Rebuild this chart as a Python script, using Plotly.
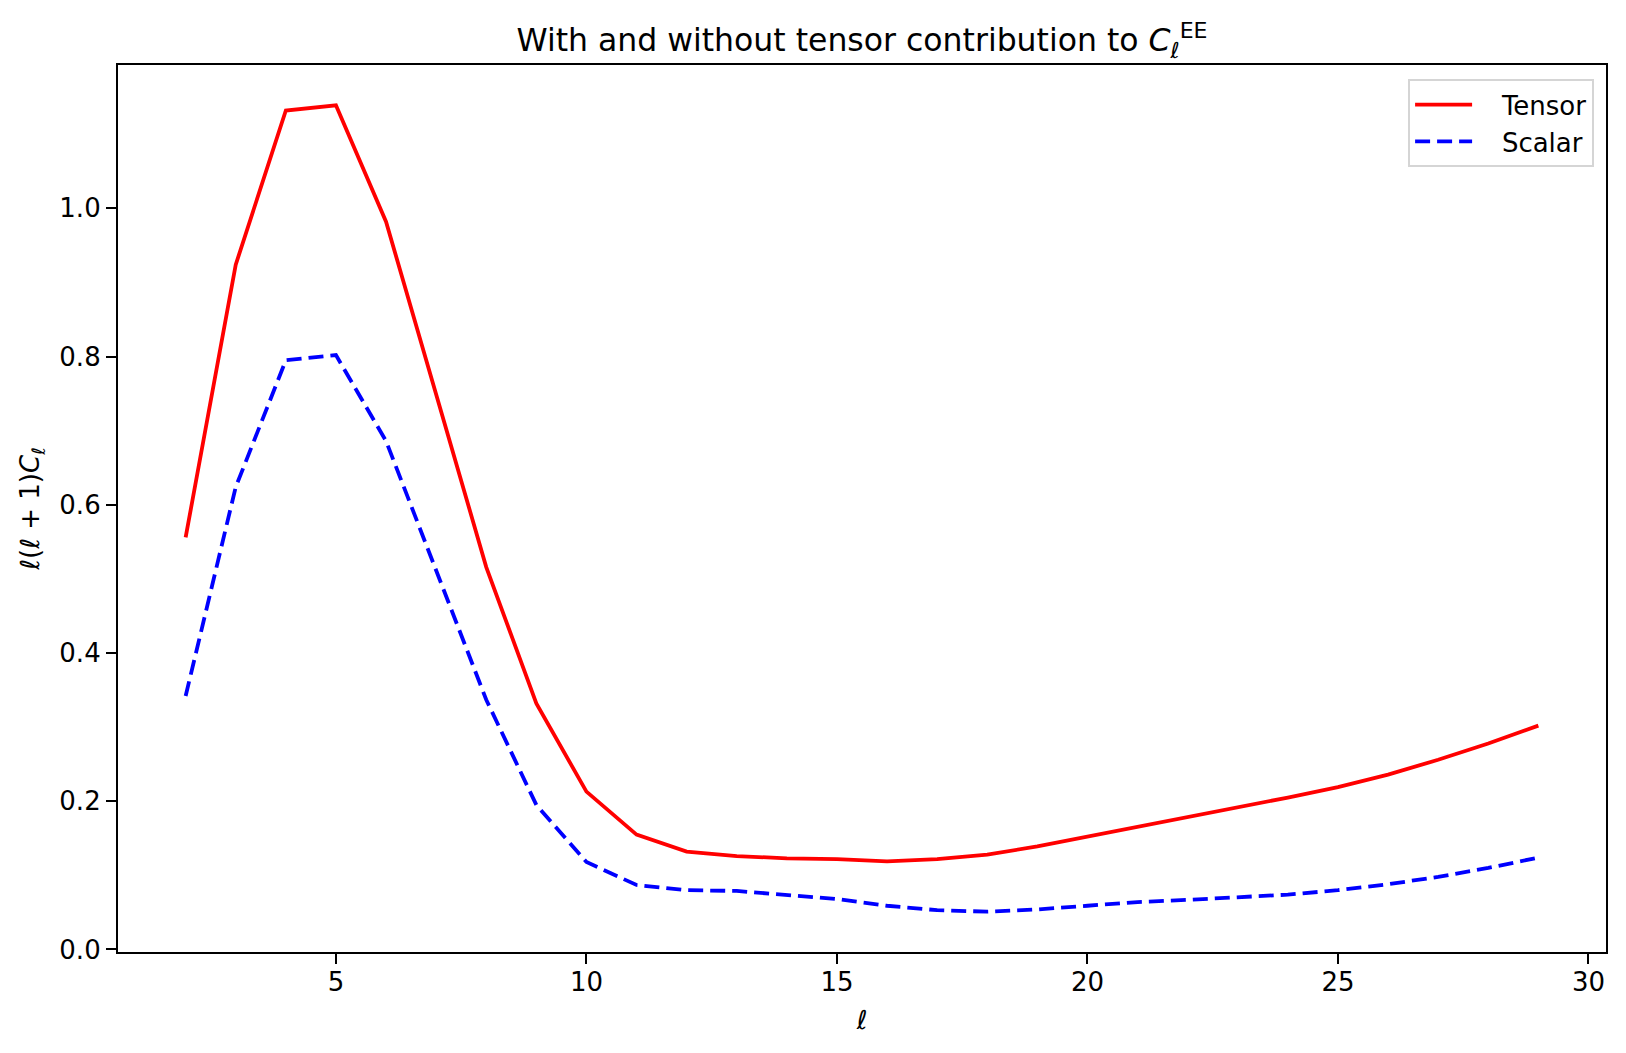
import plotly.graph_objects as go

# Data
ell = list(range(2, 30))
tensor = [0.556, 0.924, 1.132, 1.139, 0.982, 0.751, 0.516, 0.332, 0.213, 0.155,
          0.132, 0.126, 0.123, 0.122, 0.119, 0.122, 0.128, 0.139, 0.152, 0.166,
          0.179, 0.192, 0.205, 0.219, 0.236, 0.256, 0.278, 0.302]
scalar = [0.342, 0.624, 0.795, 0.802, 0.686, 0.510, 0.337, 0.195, 0.118, 0.087,
          0.080, 0.079, 0.074, 0.068, 0.059, 0.053, 0.051, 0.054, 0.059, 0.064,
          0.067, 0.070, 0.074, 0.080, 0.088, 0.098, 0.110, 0.124]
x_ticks = [5, 10, 15, 20, 25, 30]
y_ticks = [0.0, 0.2, 0.4, 0.6, 0.8, 1.0]
y_tick_labels = ["0.0", "0.2", "0.4", "0.6", "0.8", "1.0"]

FONT = "DejaVu Sans"
PAD = "\u00a0\u00a0\u00a0"

fig = go.Figure()
fig.add_trace(go.Scatter(x=ell, y=tensor, mode="lines", name=PAD + "Tensor",
                         line=dict(color="#ff0000", width=3.8)))
fig.add_trace(go.Scatter(x=ell, y=scalar, mode="lines", name=PAD + "Scalar",
                         line=dict(color="#0000ff", width=3.8, dash="15px,7px")))

axis_common = dict(showline=True, linecolor="black", linewidth=2.2, mirror=True,
                   showgrid=False, zeroline=False, ticks="outside", ticklen=10,
                   tickwidth=2.2, tickcolor="black",
                   tickfont=dict(family=FONT, size=26, color="black"))

fig.update_layout(
    width=1626, height=1053,
    margin=dict(l=118, r=20, t=65, b=101),
    paper_bgcolor="white", plot_bgcolor="white",
    font=dict(family=FONT, color="black"),
    title=dict(text="With and without tensor contribution to <i>C</i><sub><i>ℓ</i></sub><sup>EE</sup>",
               x=(118 + 1606) / 2 / 1626, xanchor="center",
               y=1 - 40 / 1053, yanchor="middle", yref="container",
               font=dict(family=FONT, size=31.5, color="black")),
    xaxis=dict(range=[0.65, 30.35], tickvals=x_ticks, ticklabelstandoff=-4,
               title=dict(text="<i>ℓ</i>", standoff=15,
                          font=dict(family=FONT, size=26, color="black")),
               **axis_common),
    yaxis=dict(range=[-0.0034, 1.1934], tickvals=y_ticks, ticktext=y_tick_labels,
               title=dict(text="<i>ℓ</i>(<i>ℓ</i> + 1)<i>C</i><sub><i>ℓ</i></sub>", standoff=12,
                          font=dict(family=FONT, size=26, color="black")),
               **axis_common),
    legend=dict(x=0.992, y=0.984, xanchor="right", yanchor="top",
                bgcolor="white", bordercolor="#d5d5d5", borderwidth=2,
                font=dict(family=FONT, size=26, color="black"),
                itemwidth=57, tracegroupgap=0),
    showlegend=True,
)

fig.write_html("out.html")
